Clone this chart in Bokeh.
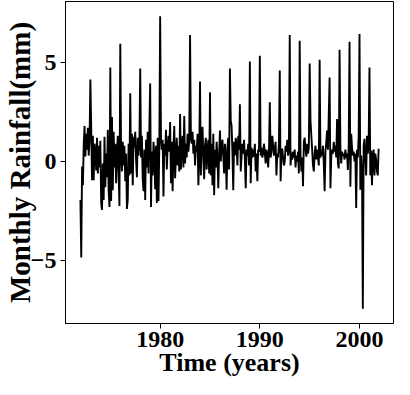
import numpy as np
from bokeh.plotting import figure
from bokeh.models import Range1d, FixedTicker
from bokeh.embed import file_html
from bokeh.resources import INLINE

start_year = 1972
rain_1972_1981 = [
    -1.95, -4.85, -0.25, -1.2, 0.9, 1.8, 0.25, 1.4, 0.6, 1.7, 0.3, 1.1,
    4.15, 1.75, -0.95, 1.3, -0.95, 0.9, 0.55, -0.45, 1.2, -0.6, 0.8, -0.3,
    1.05, -2.1, -2.45, -0.1, -1.95, 1.25, -1.3, 0.4, -0.8, 1.6, -1.5, -2.3,
    4.75, -2.0, 2.25, -1.45, 1.5, -0.3, 0.9, -1.1, 0.4, 1.3, -0.6, -2.25,
    5.95, 0.3, -0.5, 1.0, -0.2, 0.8, -1.0, 0.4, -2.4, -1.93, 0.9, -0.7,
    3.45, -0.6, 1.4, -1.2, 1.25, 0.7, 1.5, 0.1, -0.8, 1.2, 0.3, 0.9,
    4.7, 0.2, 1.3, -0.9, -1.5, 0.6, -1.95, 1.1, -0.3, 1.5, -0.6, 1.7,
    3.95, -2.3, 0.5, -0.7, 1.0, 0.3, -1.4, 0.8, -2.1, 1.2, -2.0, 0.8,
    7.35, 1.1, 0.6, 1.1, -1.77, 0.9, 0.3, 1.6, -0.4, 0.7, 1.3, 0.5,
    2.0, -1.1, 1.0, -1.5, 0.6, 1.8, -0.85, 0.3, 1.2, -0.2, 0.8, -0.5,
]
rain_1982_1991 = [
    2.4, -0.4, 0.7, 1.3, -0.3, 2.3, -0.1, 0.9, 0.2, 1.4, 0.5, 1.0,
    6.4, 1.25, 0.9, 1.5, 0.4, 1.1, -0.2, 0.8, 0.5, 1.4, -1.2, 0.3,
    4.05, -0.7, 1.0, 1.75, 0.2, -0.9, 0.8, 1.2, -0.4, 0.5, 1.1, -0.6,
    3.5, -0.7, 0.9, -1.2, 1.4, -1.7, 0.6, -0.3, 1.0, 0.2, -1.35, 0.4,
    1.57, 0.0, 0.8, 1.1, 0.3, -0.6, 0.9, 0.2, -1.43, 0.7, 1.2, -0.4,
    4.7, 2.07, 1.8, 0.5, -1.45, 1.0, 0.3, 1.2, 0.8, -0.2, 1.3, 0.6,
    2.9, -0.5, 0.25, 0.9, 0.4, 1.1, 0.1, -1.35, 0.6, 0.3, 0.9, -0.2,
    5.05, -1.1, 0.7, 0.2, 0.6, 0.25, 0.9, -0.5, 0.4, -1.0, 0.6, 0.5,
    5.35, 0.3, 0.7, 0.2, 0.4, 0.9, 0.45, -0.1, 0.6, 0.4, -0.3, 0.5,
    3.0, 0.2, 0.5, 1.3, 0.8, 0.3, 0.6, 1.0, -0.7, 0.4, 0.2, 0.9,
]
rain_1992_2001 = [
    4.6, -1.0, 0.3, 0.65, 0.2, -0.2, 0.0, 0.8, 0.5, 1.1, 0.3, 0.6,
    6.4, -0.2, 0.45, 0.1, 0.5, 0.2, 0.6, -0.3, 0.3, 0.0, 0.5, -0.6,
    6.1, 0.3, -0.5, 0.2, -1.25, 1.0, 1.2, 0.6, 0.25, 0.9, 0.4, 0.7,
    4.95, 2.07, 1.3, 0.6, -0.2, -0.5, 0.4, 0.8, 0.1, 0.6, 0.3, -0.2,
    5.15, 0.2, 0.55, 0.3, 0.8, -0.1, -1.5, 0.5, 1.0, 1.57, 0.6, 2.4,
    4.25, -1.35, 0.25, 0.6, 0.4, 1.0, 0.5, 0.8, 0.2, 2.15, -0.1, -0.35,
    5.65, 0.65, -0.1, 0.5, 0.3, 0.4, 0.1, 0.6, 0.2, 0.4, -0.43, 0.8,
    6.05, -1.27, 1.4, 0.7, 0.3, 0.5, 0.0, 0.4, -2.35, 0.6, 0.2, 1.3,
    6.45, -1.43, 0.3, -0.5, -7.45, 0.8, 1.15, 0.2, -0.7, 1.3, 0.4, 0.9,
    4.75, -0.7, 0.55, -1.2, 0.3, 0.6, -0.7, 0.4, 0.1, -0.5, -0.7, 0.65,
]
x_ticks = [1980, 1990, 2000]
y_ticks = [-5, 0, 5]
y_tick_labels = {-5: "\u22125", 0: "0", 5: "5"}

rain = np.array(rain_1972_1981 + rain_1982_1991 + rain_1992_2001)
t = start_year + np.arange(len(rain)) / 12.0

FONT = "Liberation Serif"

p = figure(width=394, height=379, output_backend="svg", toolbar_location=None,
           x_range=Range1d(1970.504, 2003.41), y_range=Range1d(-8.19, 8.09),
           min_border_left=60, min_border_right=1, min_border_top=1,
           min_border_bottom=40)
p.line(t, rain, line_color="black", line_width=1.9)

p.grid.visible = False
p.outline_line_color = "black"
p.outline_line_width = 1
p.outline_line_alpha = 1.0

for ax in (p.xaxis[0], p.yaxis[0]):
    ax.axis_line_color = "black"
    ax.major_tick_line_color = "black"
    ax.minor_tick_line_color = None
    ax.major_tick_out = 5
    ax.major_tick_in = 0
    ax.major_label_text_font = FONT
    ax.major_label_text_font_style = "bold"
    ax.major_label_text_font_size = "24px"
    ax.major_label_text_color = "black"
    ax.axis_label_text_font = FONT
    ax.axis_label_text_font_style = "bold"
    ax.axis_label_text_color = "black"

p.xaxis.axis_label_text_font_size = "26px"
p.yaxis.axis_label_text_font_size = "29px"
p.xaxis.ticker = FixedTicker(ticks=x_ticks)
p.yaxis.ticker = FixedTicker(ticks=y_ticks)
p.yaxis.major_label_overrides = y_tick_labels
p.xaxis.axis_label = "Time (years)"
p.yaxis.axis_label = "Monthly Rainfall(mm)"
p.xaxis.major_label_standoff = 3
p.yaxis.major_label_standoff = 4
p.xaxis.axis_label_standoff = -2
p.yaxis.axis_label_standoff = -8

open("out.html", "w").write(file_html(p, INLINE))
